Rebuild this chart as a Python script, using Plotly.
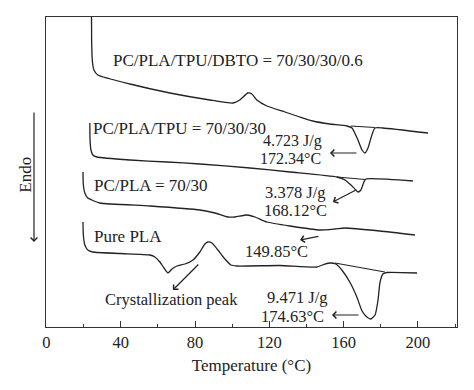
import plotly.graph_objects as go

# ---- data (temperature in °C, heat flow in arbitrary units) ----
t_dbto = [24.3, 24.4, 24.8, 25.6, 27.7, 45.0, 66.5, 88.0, 100.4, 104.1, 108.4, 110.6, 113.3,
          118.7, 128.4, 136.4, 143.4, 152.6, 161.7, 164.5, 167.7, 169.9, 171.5, 173.1, 175.2,
          176.8, 181.1, 205.4]
h_dbto = [310, 282, 265, 257, 252, 243, 234, 227, 224, 227, 234, 233, 227,
          221, 215, 210, 206, 203, 201, 199, 187, 177, 174, 179, 192,
          199, 199, 194]

t_tpu = [23.4, 23.5, 24.0, 25.0, 27.2, 45.0, 64.9, 82.6, 109.6, 131.1, 156.4, 160.7, 164.5,
         167.7, 169.3, 170.9, 172.0, 197.3]
h_tpu = [204, 187, 177, 172, 170, 167, 165, 163, 159, 155, 150, 147, 141,
         135, 137, 145, 148, 146]

t_pcpla = [19.7, 19.9, 20.7, 22.3, 24.5, 28.8, 55.7, 82.6, 90.7, 97.7, 101.5, 107.9, 112.3,
           118.7, 131.1, 147.2, 155.3, 160.7, 179.5, 198.4]
h_pcpla = [155, 142, 134, 129, 127, 124, 121, 117, 114, 110, 110, 112, 110,
           105, 101, 97, 98, 99, 96, 92]

t_pla = [19.7, 19.9, 20.7, 22.3, 25.0, 39.6, 55.7, 58.4, 61.1, 63.3, 65.4, 67.6, 70.3, 74.6,
         78.9, 82.6, 85.3, 86.9, 89.1, 92.3, 96.1, 99.3, 102.6, 125.7, 145.6, 149.9, 152.6,
         155.8, 159.0, 163.3, 167.1, 169.9, 172.5, 174.7, 176.9, 178.5, 179.5, 181.1, 183.3,
         199.5]
h_pla = [105, 92, 82, 77, 75, 73.5, 72, 70, 65, 59, 54, 58, 61, 63,
         67, 75, 83, 85, 84, 77, 68, 62, 61, 61.5, 60, 63, 64,
         63, 57, 45, 30, 16, 10, 8, 12, 27, 44, 53, 54.5,
         54]

# integration baselines under the melting peaks
base_dbto_t = [163.9, 176.8]
base_dbto_h = [201, 199.5]
base_tpu_t = [156.4, 171.5]
base_tpu_h = [150, 147.5]
base_pla_t = [155.3, 182.2]
base_pla_h = [64, 55]

x_ticks = [0, 40, 80, 120, 160, 200]

FONT = "Liberation Serif"
INK = "#222222"

fig = go.Figure()
line_style = dict(color=INK, width=1.3)
for tx, hy in [(t_dbto, h_dbto), (t_tpu, h_tpu), (t_pcpla, h_pcpla), (t_pla, h_pla)]:
    fig.add_trace(go.Scatter(x=tx, y=hy, mode="lines", line=dict(shape="spline", smoothing=0.5, **line_style),
                             showlegend=False, hoverinfo="skip"))
for tx, hy in [(base_dbto_t, base_dbto_h), (base_tpu_t, base_tpu_h), (base_pla_t, base_pla_h)]:
    fig.add_trace(go.Scatter(x=tx, y=hy, mode="lines", line=dict(color=INK, width=1.1),
                             showlegend=False, hoverinfo="skip"))

labels = [
    ("PC/PLA/TPU/DBTO = 70/30/30/0.6", 103.2, 267, "center", 17),
    ("PC/PLA/TPU = 70/30/30", 24.0, 199, "left", 17),
    ("4.723 J/g", 132.2, 186, "center", 16),
    ("172.34°C", 131.6, 169, "center", 16),
    ("PC/PLA = 70/30", 24.5, 142, "left", 17),
    ("3.378 J/g", 134.3, 135, "center", 16.5),
    ("168.12°C", 134.3, 117, "center", 16.5),
    ("Pure PLA", 24.5, 91, "left", 17),
    ("149.85°C", 124.1, 76, "center", 16.5),
    ("Crystallization peak", 67.6, 28, "center", 16.5),
    ("9.471 J/g", 135.4, 30, "center", 16.5),
    ("174.63°C", 132.7, 11, "center", 16.5),
]
for s, x, y, anc, fs in labels:
    fig.add_annotation(text=s, x=x, y=y, xanchor=anc, yanchor="middle", showarrow=False,
                       xref="x", yref="y", font=dict(family=FONT, size=fs, color=INK))

# arrows: (head_x, head_y, tail_x, tail_y)
arrows = [
    (152.6, 174, 167.7, 174),
    (154.2, 125, 167.7, 138),
    (136.5, 87, 147.2, 91),
    (68.1, 37, 82.6, 64),
    (153.7, 12, 168.8, 12),
]
for hx, hy, tx, ty in arrows:
    fig.add_annotation(x=hx, y=hy, ax=tx, ay=ty, xref="x", yref="y", axref="x", ayref="y",
                       text="", showarrow=True, arrowhead=4, arrowsize=1.1, arrowwidth=1.2,
                       arrowcolor=INK)

# Endo label with downward arrow
fig.add_annotation(x=-0.0292, y=0.274, ax=-0.0292, ay=0.697, xref="x domain", yref="y domain",
                   axref="x domain", ayref="y domain", text="", showarrow=True, arrowhead=4,
                   arrowsize=1.1, arrowwidth=1.2, arrowcolor=INK)
fig.add_annotation(text="Endo", x=-0.052, y=0.49, xref="x domain", yref="y domain", textangle=-90,
                   xanchor="center", yanchor="middle",
                   showarrow=False, font=dict(family=FONT, size=17, color=INK))

fig.update_xaxes(range=[-0.2, 221], tickvals=x_ticks, ticks="inside", ticklen=6, tickwidth=1,
                 tickcolor="#333", showline=True, linecolor="#333", linewidth=1.2, mirror=True,
                 showgrid=False, zeroline=False,
                 minor=dict(dtick=20, tick0=0, ticks="inside", ticklen=3, tickcolor="#333", showgrid=False),
                 tickfont=dict(family=FONT, size=16.5, color=INK),
                 title=dict(text="Temperature (°C)", font=dict(family=FONT, size=17, color=INK), standoff=8))
fig.update_yaxes(range=[0, 310], showticklabels=False, ticks="", showline=True, linecolor="#333",
                 linewidth=1.2, mirror=True, showgrid=False, zeroline=False)

fig.update_layout(width=474, height=390, margin=dict(l=46, r=17, t=17, b=63),
                  plot_bgcolor="white", paper_bgcolor="white", font=dict(family=FONT, color=INK))

fig.write_html("out.html", config={"displayModeBar": False},
               post_script="document.body.style.margin='0';")
